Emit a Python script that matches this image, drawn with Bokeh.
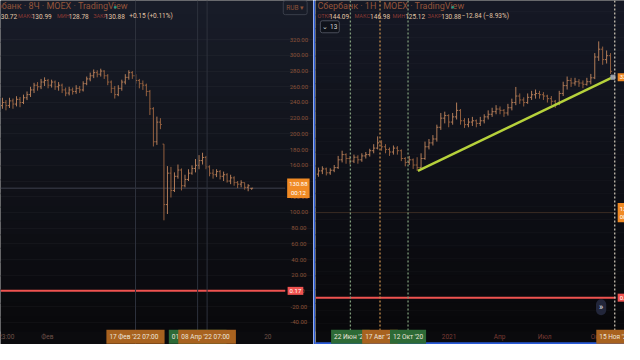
from bokeh.plotting import figure
from bokeh.models import ColumnDataSource, Span, Label, FixedTicker, Range1d, Grid
from bokeh.core.properties import value
from bokeh.layouts import row
from bokeh.embed import file_html
from bokeh.resources import INLINE

FONT = "Roboto"

# ---------------- data: left pane (Сбербанк, 8Ч bars) ----------------
left_open = [236, 240, 236, 242, 238, 244, 240, 246, 250, 256, 262, 260, 266, 268, 262, 266, 260, 262,
             256, 252, 256, 254, 258, 256, 264, 270, 274, 278, 276, 280, 274, 266, 258, 250, 258, 266,
             272, 278, 274, 268, 264, 262, 254, 232, 190, 215, 187, 110, 150, 128, 146, 154, 134, 142,
             150, 156, 160, 166, 170, 158, 150, 148, 152, 146, 148, 140, 144, 138, 136, 138, 132, 130.72]
left_high = [246, 243, 246, 245, 248, 247, 250, 254, 260, 265, 266, 270, 272, 270, 269, 268, 266, 264,
             259, 260, 259, 262, 261, 267, 273, 278, 282, 281, 283, 281, 276, 268, 261, 262, 269, 276,
             281, 280, 276, 270, 268, 264, 256, 234, 222, 220, 187, 159, 158, 151, 161, 156, 148, 155,
             160, 168, 173, 176, 172, 160, 155, 155, 154, 152, 150, 148, 146, 140, 141, 138, 136, 130.99]
left_low = [232, 230, 233, 232, 235, 234, 238, 243, 247, 252, 255, 257, 261, 258, 259, 256, 255, 252,
            248, 249, 250, 251, 252, 254, 262, 267, 271, 272, 273, 270, 262, 252, 245, 248, 255, 263,
            269, 270, 264, 258, 256, 248, 224, 184, 186, 206, 90, 98, 119, 126, 143, 128, 132, 140,
            148, 151, 155, 161, 155, 146, 143, 145, 142, 140, 138, 136, 134, 131, 132, 129, 127, 128.78]
left_close = [240, 236, 242, 238, 244, 240, 246, 250, 256, 262, 260, 266, 268, 262, 266, 260, 262, 256,
              252, 256, 254, 258, 256, 264, 270, 274, 278, 276, 280, 274, 266, 258, 250, 258, 266, 272,
              278, 274, 268, 264, 262, 254, 232, 190, 215, 212, 110, 150, 128, 146, 154, 134, 142, 150,
              156, 160, 166, 170, 158, 150, 148, 152, 146, 148, 140, 144, 138, 136, 138, 132, 134, 130.88]
left_price_ticks = [-40, -20, 0, 20, 40, 60, 80, 100, 120, 140, 160, 180, 200, 220, 240, 260, 280, 300, 320]
left_time_ticks = [1.1, 12.8, 75.6]
left_time_labels = ["23:00", "Фев", "20"]
left_marker_bars = [37.9, 55.6, 58.3]
left_marker_texts = ["17 Фев '22   07:00", "01 Апр '22   07:00", "08 Апр '22   07:00"]
left_marker_colors = ["#a8621f", "#2d6a36", "#a8621f"]
left_title = "Сбербанк · 8Ч · MOEX · TradingView"
left_legend = [("ОТКР", "130.72"), ("МАКС", "130.99"), ("МИН", "128.78"), ("ЗАКР", "130.88")]
left_change = "+0.15 (+0.11%)"

last_price = 130.88
support_level = 0.17

# ---------------- data: right pane (Сбербанк, 1Н bars) ----------------
right_open = [190, 195, 198, 192, 196, 200, 212, 220, 214, 210, 216, 212, 218, 220, 226, 230, 238, 232,
              228, 224, 230, 226, 214, 208, 212, 204, 200, 214, 232, 238, 244, 262, 276, 280, 270, 278,
              288, 272, 266, 270, 272, 268, 272, 278, 282, 286, 290, 288, 284, 292, 300, 310, 304, 300,
              308, 312, 314, 312, 310, 306, 302, 298, 314, 326, 334, 330, 332, 330, 328, 332, 338, 370,
              382, 366, 372]
right_high = [200, 202, 200, 199, 204, 218, 226, 222, 218, 220, 219, 222, 224, 229, 236, 248, 242, 236,
              231, 234, 233, 228, 216, 218, 214, 216, 222, 240, 244, 250, 266, 284, 286, 282, 284, 300,
              290, 276, 276, 278, 274, 278, 282, 288, 292, 296, 294, 290, 298, 306, 324, 314, 308, 314,
              318, 320, 318, 316, 312, 310, 304, 318, 332, 340, 338, 338, 336, 334, 338, 344, 376, 394,
              386, 380, 376]
right_low = [186, 190, 188, 189, 193, 198, 208, 206, 205, 207, 206, 209, 214, 217, 222, 228, 226, 222,
             218, 220, 220, 210, 202, 204, 198, 195, 198, 212, 228, 234, 240, 258, 268, 262, 266, 274,
             266, 261, 262, 264, 262, 264, 268, 274, 278, 282, 282, 278, 280, 288, 296, 298, 294, 298,
             304, 306, 306, 304, 300, 296, 292, 296, 310, 320, 324, 326, 324, 322, 326, 328, 336, 364,
             358, 360, 344]
right_close = [195, 198, 192, 196, 200, 212, 220, 214, 210, 216, 212, 218, 220, 226, 230, 238, 232, 228,
               224, 230, 226, 214, 208, 212, 204, 200, 214, 232, 238, 244, 262, 276, 280, 270, 278, 288,
               272, 266, 270, 272, 268, 272, 278, 282, 286, 290, 288, 284, 292, 300, 310, 304, 300, 308,
               312, 314, 312, 310, 306, 302, 298, 314, 326, 334, 330, 332, 330, 328, 332, 338, 370, 382,
               366, 372, 348]
right_grid_ticks = [-40, -20, 0, 20, 40, 60, 80, 100, 120, 140, 160, 180, 200, 220, 240, 260, 280,
                    300, 320, 340, 360, 380, 400, 420, 440]
right_time_ticks = [33.1, 45.9, 57.3, 70.4]
right_time_labels = ["2021", "Апр", "Июл", "Окт"]
right_marker_bars = [8.1, 15.6, 22.7, 75.06]
right_marker_texts = ["22 Июн '20", "17 Авг '20", "12 Окт '20", "15 Ноя '21"]
right_marker_colors = ["#2d6a36", "#a8621f", "#2d6a36", "#a8621f"]
right_marker_lines = ["#7d9a78", "#c08a4a", "#7d9a78", "#c8c0b0"]
trend_x = [25.2, 74.6]
trend_y = [195, 339]
trend_end_label = "339.38"
right_title = "Сбербанк · 1Н · MOEX · TradingView"
right_legend = [("ОТКР", "144.09"), ("МАКС", "146.98"), ("МИН", "125.12"), ("ЗАКР", "130.88")]
right_change = "−12.84 (−8.93%)"

# ---------------- pixel helpers (layout only: reference px -> data) ----------------
def L_x(px): return (px - 2) / 3.6
def L_y(py): return (304 - py) / 0.822
def R_x(px): return (px - 326) / 4.05
def R_y(py): return (311.1 - py) / 0.681


def hexmix(a, b, t):
    a = [int(a[i:i + 2], 16) for i in (1, 3, 5)]
    b = [int(b[i:i + 2], 16) for i in (1, 3, 5)]
    return "#" + "".join("%02x" % round(a[k] + (b[k] - a[k]) * t) for k in range(3))


def gradient(p, x0, x1, ymin, ymax, top, bottom, n=24):
    step = (ymax - ymin) / n
    tops = [ymax - i * step for i in range(n)]
    bots = [ymax - (i + 1) * step - step * 0.1 for i in range(n)]
    cols = [hexmix(top, bottom, i / (n - 1)) for i in range(n)]
    p.quad(left=x0, right=x1, top=tops, bottom=bots, fill_color=cols, line_color=None, level="image")


def lab(p, x, y, text, color, size="7px", align="left", bg=None, border=None, pad=0, radius=0,
        baseline="middle"):
    kw = dict(x=x, y=y, text=text, text_color=color, text_font=FONT,
              text_font_size=size, text_align=align, text_baseline=baseline)
    if bg:
        kw.update(background_fill_color=bg, background_fill_alpha=1.0)
    if border:
        kw.update(border_line_color=border, border_line_width=1)
    if pad:
        kw["padding"] = pad
    if radius:
        kw["border_radius"] = radius
    p.add_layout(Label(**kw))


def draw_bars(p, o, h, l, c, up="#b27c58", down="#94603f"):
    xs = list(range(len(c)))
    cols = [up if cc >= oo else down for oo, cc in zip(o, c)]
    src = ColumnDataSource(dict(x=xs, xl=[x - 0.4 for x in xs], xr=[x + 0.4 for x in xs],
                                o=o, h=h, l=l, c=c, col=cols))
    p.segment(x0="x", y0="l", x1="x", y1="h", line_color="col", line_width=1, source=src)
    p.segment(x0="xl", y0="o", x1="x", y1="o", line_color="col", line_width=1, source=src)
    p.segment(x0="x", y0="c", x1="xr", y1="c", line_color="col", line_width=1, source=src)


def header(p, fx, fy, x0, title, legend, change, positions, change_x, dot_x):
    lab(p, fx(x0), fy(6), title, "#94543a", size="9px")
    lab(p, fx(dot_x), fy(6), "●", "#1f9e8a", size="6px")
    for (name, val), (nx, vx) in zip(legend, positions):
        lab(p, fx(nx), fy(16.5), name, "#8a3a34", size="5.5px")
        lab(p, fx(vx), fy(16.5), val, "#e2c6a6", size="6.5px")
    lab(p, fx(change_x), fy(16.5), change, "#e2c6a6", size="6.5px")


def tick_texts(p, xs, ys, texts, color, size, align="center"):
    p.text(x=xs, y=ys, text=texts, text_color=color, text_font=value(FONT),
           text_font_size=value(size), text_align=align, text_baseline="middle")


def base_fig(width, xr, yr, bg):
    p = figure(width=width, height=344, x_range=xr, y_range=yr, output_backend="svg",
               toolbar_location=None, x_axis_location=None, y_axis_location=None,
               min_border=0, min_border_left=0, min_border_right=0, min_border_top=0,
               min_border_bottom=0, background_fill_color=bg, border_fill_color=bg,
               outline_line_color=None)
    p.xgrid.visible = False
    p.ygrid.visible = False
    return p


# ================= LEFT PANE =================
lp = base_fig(313, Range1d(L_x(0), L_x(321)), Range1d(L_y(360), L_y(0)), "#0b0b0e")
gradient(lp, L_x(0), L_x(321), L_y(345), L_y(0), "#181c28", "#09090c")
lp.add_layout(Grid(dimension=1, ticker=FixedTicker(ticks=left_price_ticks),
                   grid_line_color="#ffffff", grid_line_alpha=0.03))

for xb in left_marker_bars:
    lp.add_layout(Span(location=xb, dimension="height", line_color="#2e323d", line_width=1))
lp.segment(x0=[L_x(0)], y0=[last_price], x1=[L_x(292)], y1=[last_price], line_color="#3d414d", line_width=1)
lp.segment(x0=[L_x(0)], y0=[support_level], x1=[L_x(292)], y1=[support_level],
           line_color="#ef5350", line_width=2)

draw_bars(lp, left_open, left_high, left_low, left_close)

# price scale (right) and time scale (bottom)
tick_texts(lp, [L_x(306)] * len(left_price_ticks), left_price_ticks,
           ["%.2f" % t for t in left_price_ticks], "#8a5238", "6px")
tick_texts(lp, left_time_ticks, [L_y(352)] * len(left_time_ticks), left_time_labels, "#6e5048", "6.5px")

header(lp, L_x, L_y, -20, left_title, left_legend, left_change,
       [(-19, -3.5), (18, 32), (58, 70), (95, 107)], 132, 116)

lab(lp, L_x(290), L_y(7.5), "RUB ▾", "#8a5238", size="6.5px", border="#3a3e4a", pad=3, radius=2)
lab(lp, L_x(305.5), last_price, "%.2f\n00:12" % last_price, "#ffffff", size="6px", align="center",
    bg="#f08a24", pad=2)
lab(lp, L_x(302.5), support_level, "%.2f" % support_level, "#ffffff", size="6px", align="center",
    bg="#ef5350", pad=2)
for xb, t, c in zip(left_marker_bars, left_marker_texts, left_marker_colors):
    lab(lp, xb, L_y(352), t, "#ece4da", size="6.5px", align="center", bg=c, pad=3)

# ================= BLUE SEPARATOR =================
strip = base_fig(2, Range1d(0, 1), Range1d(0, 1), "#2a5bd7")

# ================= RIGHT PANE =================
rp = base_fig(309, Range1d(R_x(323), R_x(640)), Range1d(R_y(360), R_y(0)), "#0a0a0d")
gradient(rp, R_x(323), R_x(640), R_y(345), R_y(0), "#151824", "#08080b")
rp.add_layout(Grid(dimension=1, ticker=FixedTicker(ticks=right_grid_ticks),
                   grid_line_color="#ffffff", grid_line_alpha=0.02))

for xb, c in zip(right_marker_bars, right_marker_lines):
    rp.add_layout(Span(location=xb, dimension="height", line_color=c, line_width=1.3, line_dash="2 2"))
rp.segment(x0=[R_x(323)], y0=[last_price], x1=[R_x(631)], y1=[last_price], line_color="#3a2c24",
           line_width=1)
rp.segment(x0=[R_x(323)], y0=[support_level], x1=[R_x(631)], y1=[support_level],
           line_color="#ef5350", line_width=2)
# bottom edge of the selected pane
rp.segment(x0=[R_x(321)], y0=[R_y(358.6)], x1=[R_x(640)], y1=[R_y(358.6)], line_color="#2a5bd7",
           line_width=2)

draw_bars(rp, right_open, right_high, right_low, right_close)
rp.line(trend_x, trend_y, line_color="#b6d13b", line_width=2.5)
rp.scatter(trend_x[1:], trend_y[1:], marker="square", size=4, fill_color="#9aa0aa", line_color="#9aa0aa")

tick_texts(rp, right_time_ticks, [R_y(352)] * len(right_time_ticks), right_time_labels, "#7a3a34", "6.5px")

header(rp, R_x, R_y, 325, right_title, right_legend, right_change,
       [(325, 337), (363, 379), (402, 415), (438, 452)], 473, 462)
lab(rp, R_x(328), R_y(27.5), "⌄ 13", "#d6d6d6", size="6.5px", border="#4a4e5a", pad=2, radius=2,
    bg="#0f121a")

lab(rp, R_x(633), trend_y[1], trend_end_label, "#ffffff", size="6px", bg="#f08a24", pad=2)
lab(rp, R_x(633), last_price, "%.2f\n00:12" % last_price, "#ffffff", size="6px", bg="#f08a24", pad=2)
lab(rp, R_x(633), support_level, "%.2f" % support_level, "#ffffff", size="6px", bg="#ef5350", pad=2)
lab(rp, R_x(616), R_y(321), "»", "#e8e8f0", size="9px", align="center", bg="#22263a", pad=3, radius=8)
for xb, t, c in zip(right_marker_bars, right_marker_texts, right_marker_colors):
    lab(rp, xb, R_y(352), t, "#ece4da", size="6.5px", align="center", bg=c, pad=3)

layout = row(lp, strip, rp)
open("out.html", "w").write(file_html(layout, INLINE))
